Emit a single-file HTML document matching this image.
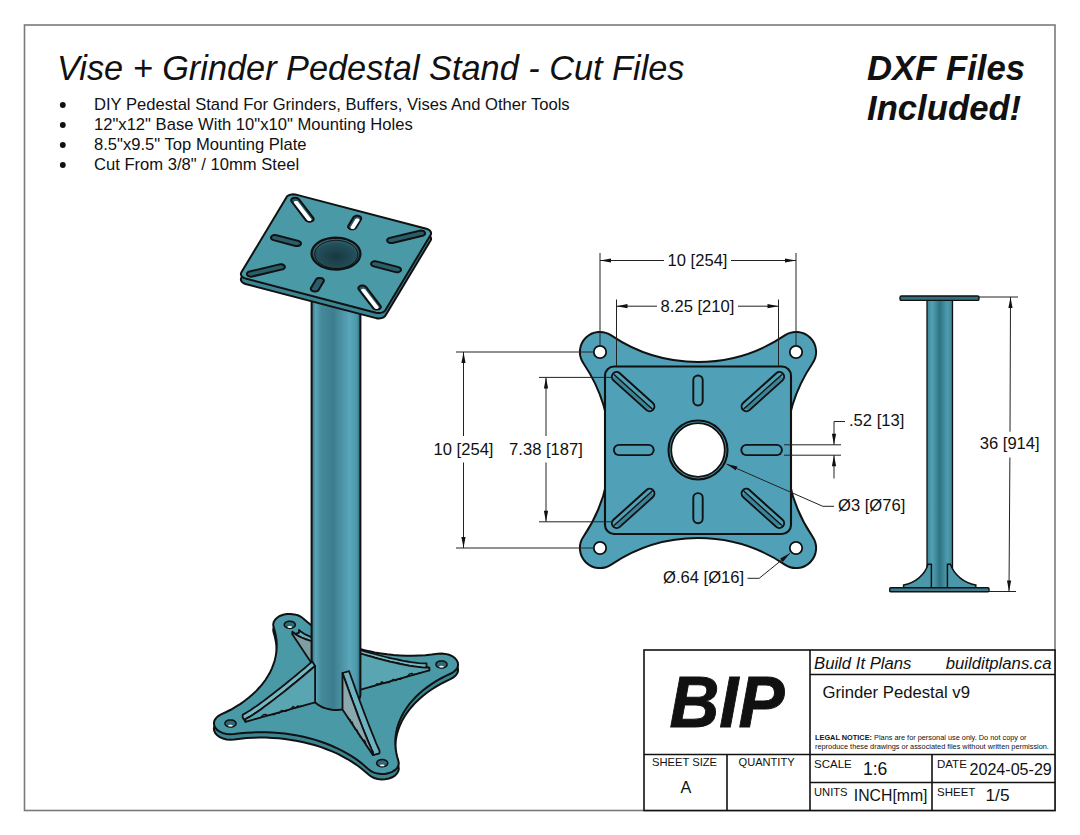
<!DOCTYPE html>
<html><head><meta charset="utf-8">
<style>
html,body{margin:0;padding:0;background:#fff;width:1080px;height:835px;overflow:hidden}
svg{position:absolute;left:0;top:0;display:block}
text{font-family:"Liberation Sans",sans-serif;fill:#111}
</style></head>
<body>
<svg width="1080" height="835" viewBox="0 0 1080 835">
<defs>
<linearGradient id="pipeS" x1="0" x2="1" y1="0" y2="0">
<stop offset="0" stop-color="#3b8595"/><stop offset="0.2" stop-color="#52a2b5"/><stop offset="0.5" stop-color="#2f7384"/><stop offset="0.8" stop-color="#4d9db1"/><stop offset="1" stop-color="#3a8292"/>
</linearGradient>
<linearGradient id="pipe3" x1="0" x2="1" y1="0" y2="0">
<stop offset="0" stop-color="#2f6f7f"/><stop offset="0.08" stop-color="#5aa3b6"/><stop offset="0.2" stop-color="#44899a"/><stop offset="0.45" stop-color="#3d7e8e"/><stop offset="0.78" stop-color="#5aa6bb"/><stop offset="0.92" stop-color="#4d98ab"/><stop offset="1" stop-color="#2c6a79"/>
</linearGradient>
<radialGradient id="holeG" cx="0.5" cy="0.6" r="0.6">
<stop offset="0" stop-color="#173840"/><stop offset="0.7" stop-color="#24505b"/><stop offset="1" stop-color="#3b7482"/>
</radialGradient>
</defs>
<!-- page border -->
<rect x="24.5" y="25" width="1030.5" height="785.5" fill="none" stroke="#7a7a7a" stroke-width="1.6"/>

<!-- header texts -->
<text x="57" y="80" font-size="34.3" font-style="italic">Vise + Grinder Pedestal Stand - Cut Files</text>
<g font-size="16.6">
<circle cx="62.8" cy="105" r="2.9" fill="#111"/><text x="94" y="110">DIY Pedestal Stand For Grinders, Buffers, Vises And Other Tools</text>
<circle cx="62.8" cy="125" r="2.9" fill="#111"/><text x="94" y="130">12"x12" Base With 10"x10" Mounting Holes</text>
<circle cx="62.8" cy="145" r="2.9" fill="#111"/><text x="94" y="150">8.5"x9.5" Top Mounting Plate</text>
<circle cx="62.8" cy="165" r="2.9" fill="#111"/><text x="94" y="170">Cut From 3/8" / 10mm Steel</text>
</g>
<g font-size="34.7" font-weight="bold" font-style="italic">
<text x="867" y="80">DXF Files</text>
<text x="867" y="120">Included!</text>
</g>

<path d="M437.8 659.2 L431.6 660 L425.3 660.6 L418.9 660.9 L412.6 661.1 L406.2 661 L399.8 660.8 L393.5 660.3 L387.2 659.7 L380.9 658.8 L374.7 657.7 L368.6 656.5 L362.6 655 L356.7 653.4 L351 651.5 L345.4 649.5 L339.9 647.3 L334.7 644.9 L329.6 642.4 L324.7 639.7 L320 636.9 L315.5 633.9 L311.3 630.7 L307.3 627.5 L303.5 624.1 L301 622.2 L297.9 620.7 L294.3 619.7 L290.6 619.3 L286.8 619.5 L283.1 620.2 L279.8 621.4 L277.1 623.1 L275 625.2 L273.7 627.5 L273.2 630 L273.6 632.4 L274.8 636.5 L275.7 640.7 L276.4 644.8 L276.7 649 L276.7 653.1 L276.4 657.3 L275.7 661.4 L274.8 665.5 L273.5 669.6 L271.9 673.6 L270.1 677.6 L267.9 681.5 L265.4 685.3 L262.7 689.1 L259.6 692.7 L256.3 696.3 L252.7 699.7 L248.9 703 L244.8 706.2 L240.5 709.2 L235.9 712.1 L231.2 714.8 L226.2 717.4 L221.1 719.8 L218.2 721.5 L216 723.5 L214.5 725.8 L213.9 728.2 L214.2 730.7 L215.3 733.1 L217.2 735.3 L219.8 737.1 L223 738.5 L226.6 739.4 L230.4 739.7 L234.2 739.5 L240.4 738.7 L246.7 738.1 L253.1 737.8 L259.4 737.6 L265.8 737.6 L272.2 737.9 L278.5 738.3 L284.8 739 L291.1 739.9 L297.3 740.9 L303.4 742.2 L309.4 743.7 L315.3 745.3 L321 747.1 L326.6 749.2 L332.1 751.4 L337.3 753.7 L342.4 756.3 L347.3 759 L352 761.8 L356.5 764.8 L360.7 768 L364.7 771.2 L368.5 774.6 L371 776.5 L374.1 778 L377.7 778.9 L381.4 779.4 L385.2 779.2 L388.9 778.5 L392.2 777.3 L394.9 775.6 L397 773.5 L398.3 771.2 L398.8 768.7 L398.4 766.2 L397.2 762.2 L396.3 758 L395.6 753.9 L395.3 749.7 L395.3 745.6 L395.6 741.4 L396.3 737.3 L397.2 733.1 L398.5 729.1 L400.1 725 L401.9 721.1 L404.1 717.2 L406.6 713.3 L409.3 709.6 L412.4 706 L415.7 702.4 L419.3 699 L423.1 695.7 L427.2 692.5 L431.5 689.5 L436.1 686.6 L440.8 683.9 L445.8 681.3 L450.9 678.9 L453.8 677.2 L456 675.2 L457.5 672.9 L458.1 670.5 L457.8 668 L456.7 665.6 L454.8 663.4 L452.2 661.6 L449 660.2 L445.4 659.3 L441.6 659 Z" fill="#3c8592" stroke="#111" stroke-width="2"/>
<path d="M437.8 653.8 L431.6 654.6 L425.3 655.2 L418.9 655.5 L412.6 655.7 L406.2 655.7 L399.8 655.4 L393.5 655 L387.2 654.3 L380.9 653.4 L374.7 652.4 L368.6 651.1 L362.6 649.6 L356.7 648 L351 646.2 L345.4 644.1 L339.9 641.9 L334.7 639.6 L329.6 637 L324.7 634.3 L320 631.5 L315.5 628.5 L311.3 625.3 L307.3 622.1 L303.5 618.7 L301 616.8 L297.9 615.3 L294.3 614.4 L290.6 613.9 L286.8 614.1 L283.1 614.8 L279.8 616 L277.1 617.7 L275 619.8 L273.7 622.1 L273.2 624.6 L273.6 627.1 L274.8 631.2 L275.7 635.3 L276.4 639.4 L276.7 643.6 L276.7 647.8 L276.4 651.9 L275.7 656.1 L274.8 660.2 L273.5 664.2 L271.9 668.3 L270.1 672.2 L267.9 676.1 L265.4 680 L262.7 683.7 L259.6 687.3 L256.3 690.9 L252.7 694.3 L248.9 697.6 L244.8 700.8 L240.5 703.8 L235.9 706.7 L231.2 709.5 L226.2 712 L221.1 714.4 L218.2 716.1 L216 718.1 L214.5 720.4 L213.9 722.8 L214.2 725.3 L215.3 727.7 L217.2 729.9 L219.8 731.7 L223 733.1 L226.6 734 L230.4 734.3 L234.2 734.1 L240.4 733.3 L246.7 732.7 L253.1 732.4 L259.4 732.2 L265.8 732.3 L272.2 732.5 L278.5 733 L284.8 733.6 L291.1 734.5 L297.3 735.6 L303.4 736.8 L309.4 738.3 L315.3 739.9 L321 741.8 L326.6 743.8 L332.1 746 L337.3 748.4 L342.4 750.9 L347.3 753.6 L352 756.4 L356.5 759.4 L360.7 762.6 L364.7 765.9 L368.5 769.2 L371 771.1 L374.1 772.6 L377.7 773.6 L381.4 774 L385.2 773.9 L388.9 773.1 L392.2 771.9 L394.9 770.2 L397 768.2 L398.3 765.8 L398.8 763.4 L398.4 760.9 L397.2 756.8 L396.3 752.7 L395.6 748.5 L395.3 744.3 L395.3 740.2 L395.6 736 L396.3 731.9 L397.2 727.8 L398.5 723.7 L400.1 719.7 L401.9 715.7 L404.1 711.8 L406.6 708 L409.3 704.2 L412.4 700.6 L415.7 697 L419.3 693.6 L423.1 690.3 L427.2 687.1 L431.5 684.1 L436.1 681.2 L440.8 678.5 L445.8 675.9 L450.9 673.5 L453.8 671.8 L456 669.8 L457.5 667.5 L458.1 665.1 L457.8 662.6 L456.7 660.2 L454.8 658 L452.2 656.2 L449 654.8 L445.4 653.9 L441.6 653.6 Z" fill="#4a99a6" stroke="#111" stroke-width="2"/>
<path d="M235.7 724.8 L236 724 L236 723.2 L235.8 722.4 L235.3 721.7 L234.6 721 L233.6 720.5 L232.5 720.1 L231.3 719.9 L230.1 719.9 L228.9 720 L227.7 720.3 L226.7 720.8 L225.9 721.4 L225.3 722.1 L225 722.9 L225 723.7 L225.2 724.5 L225.7 725.2 L226.4 725.9 L227.4 726.4 L228.5 726.8 L229.7 727 L230.9 727.1 L232.1 726.9 L233.3 726.6 L234.3 726.1 L235.1 725.5 Z" fill="#2f6a78" stroke="#111" stroke-width="1.5"/>
<ellipse cx="230.5" cy="725.7" rx="2.3" ry="0.9" fill="#f4f8f9"/>
<path d="M295 626.1 L295.3 625.3 L295.3 624.5 L295.1 623.7 L294.6 623 L293.9 622.3 L292.9 621.8 L291.8 621.4 L290.6 621.2 L289.4 621.2 L288.2 621.3 L287 621.6 L286 622.1 L285.2 622.7 L284.6 623.4 L284.3 624.2 L284.3 625 L284.5 625.8 L285 626.5 L285.7 627.2 L286.7 627.7 L287.8 628.1 L289 628.3 L290.2 628.4 L291.4 628.2 L292.6 627.9 L293.6 627.4 L294.4 626.8 Z" fill="#2f6a78" stroke="#111" stroke-width="1.5"/>
<ellipse cx="289.8" cy="627" rx="2.3" ry="0.9" fill="#f4f8f9"/>
<path d="M387.4 764.5 L387.7 763.7 L387.7 762.9 L387.5 762.1 L387 761.4 L386.3 760.7 L385.3 760.2 L384.2 759.8 L383 759.6 L381.8 759.6 L380.6 759.7 L379.4 760 L378.4 760.5 L377.6 761.1 L377 761.8 L376.7 762.6 L376.7 763.4 L376.9 764.2 L377.4 764.9 L378.1 765.6 L379.1 766.1 L380.2 766.5 L381.4 766.7 L382.6 766.8 L383.8 766.6 L385 766.3 L386 765.8 L386.8 765.2 Z" fill="#2f6a78" stroke="#111" stroke-width="1.5"/>
<ellipse cx="382.2" cy="765.4" rx="2.3" ry="0.9" fill="#f4f8f9"/>
<path d="M446.7 665.8 L447 665 L447 664.2 L446.8 663.4 L446.3 662.7 L445.6 662 L444.6 661.5 L443.5 661.1 L442.3 660.9 L441.1 660.9 L439.9 661 L438.7 661.3 L437.7 661.8 L436.9 662.4 L436.3 663.1 L436 663.9 L436 664.7 L436.2 665.5 L436.7 666.2 L437.4 666.9 L438.4 667.4 L439.5 667.8 L440.7 668 L441.9 668.1 L443.1 667.9 L444.3 667.6 L445.3 667.1 L446.1 666.5 Z" fill="#2f6a78" stroke="#111" stroke-width="1.5"/>
<ellipse cx="441.5" cy="666.7" rx="2.3" ry="0.9" fill="#f4f8f9"/>
<path d="M322.9 643.7 L321.2 643.4 L319.5 643.1 L317.8 642.7 L316.2 642.3 L314.5 641.9 L312.8 641.5 L311.1 641 L309.4 640.5 L307.7 639.9 L306 639.3 L304.3 638.7 L302.6 638 L300.9 637.2 L299.2 636.4 L297.5 635.5 L295.9 634.5 L294.2 633.3 L292.5 631.8 L292.5 634.6 L299 632.8 L299 630 L300.7 631.5 L302.4 632.6 L304.1 633.7 L305.8 634.6 L307.5 635.4 L309.2 636.2 L310.9 636.9 L312.6 637.5 L314.3 638.1 L315.9 638.7 L317.6 639.2 L319.3 639.6 L321 640.1 L322.7 640.5 L324.4 640.9 L326.1 641.2 L327.8 641.5 L329.5 641.8 Z" fill="#6aaabb" stroke="#111" stroke-width="1.8" stroke-linejoin="round"/>
<path d="M322.9 680.2 L322.9 643.7 L321.2 643.4 L319.5 643.1 L317.8 642.7 L316.2 642.3 L314.5 641.9 L312.8 641.5 L311.1 641 L309.4 640.5 L307.7 639.9 L306 639.3 L304.3 638.7 L302.6 638 L300.9 637.2 L299.2 636.4 L297.5 635.5 L295.9 634.5 L294.2 633.3 L292.5 631.8 L292.5 634.6 Z" fill="#7f9ea4" stroke="#111" stroke-width="1.8" stroke-linejoin="round"/>
<path d="M359.8 653.3 L363.7 654.5 L367.5 655.6 L371.4 656.7 L375.3 657.8 L379.1 658.8 L383 659.9 L386.9 660.8 L390.7 661.8 L394.6 662.7 L398.4 663.5 L402.3 664.3 L406.2 665.1 L410 665.8 L413.9 666.4 L417.8 666.9 L421.6 667.4 L425.5 667.7 L429.3 667.6 L429.3 670.4 L426.5 666.1 L426.5 663.3 L422.6 663.4 L418.7 663.1 L414.9 662.6 L411 662.1 L407.2 661.5 L403.3 660.8 L399.4 660 L395.6 659.2 L391.7 658.4 L387.8 657.5 L384 656.5 L380.1 655.5 L376.3 654.5 L372.4 653.5 L368.5 652.4 L364.7 651.3 L360.8 650.2 L356.9 649 Z" fill="#74b8c5" stroke="#111" stroke-width="1.8" stroke-linejoin="round"/>
<path d="M359.8 689.9 L359.8 653.3 L363.7 654.5 L367.5 655.6 L371.4 656.7 L375.3 657.8 L379.1 658.8 L383 659.9 L386.9 660.8 L390.7 661.8 L394.6 662.7 L398.4 663.5 L402.3 664.3 L406.2 665.1 L410 665.8 L413.9 666.4 L417.8 666.9 L421.6 667.4 L425.5 667.7 L429.3 667.6 L429.3 670.4 Z" fill="#5aa5b2" stroke="#111" stroke-width="1.8" stroke-linejoin="round"/>
<path d="M370.3 686.9 L372.6 686.3 L374.9 685.7 L377.2 683.7 L379.5 684.4 L381.8 681.7 L384.1 683.1 L386.4 682.4 L388.7 682.6 L391 681.1 L393.3 679.2 L395.6 680.6 L397.9 679.2 L400.2 679.4 L402.5 677.9 L404.8 677.3 L407.2 676.6 L409.5 674 L411.8 673.3 L414.1 674.7 L416.4 674 L418.7 673.4 L421 672.8" fill="none" stroke="#111" stroke-width="1.3" stroke-linejoin="round"/>
<path d="M360.4 257.5 L360.4 694.1 L360.4 695.4 L360.1 696.6 L359.8 697.8 L359.2 699 L358.6 700.2 L357.8 701.3 L356.8 702.4 L355.8 703.5 L354.6 704.4 L353.3 705.4 L351.9 706.2 L350.4 707 L348.8 707.7 L347.1 708.3 L345.3 708.8 L343.5 709.2 L341.7 709.5 L339.8 709.7 L337.9 709.9 L336 709.9 L334.1 709.9 L332.2 709.7 L330.3 709.4 L328.5 709.1 L326.7 708.6 L324.9 708.1 L323.2 707.5 L321.6 706.8 L320.1 706 L318.7 705.1 L317.4 704.2 L316.2 703.2 L315.2 702.2 L314.2 701.1 L313.4 699.9 L312.8 698.7 L312.2 697.5 L311.9 696.3 L311.6 695.1 L311.6 693.8 L311.6 257.2 Z" fill="url(#pipe3)" stroke="#111" stroke-width="2"/>
<path d="M315.1 665.9 L311.2 669.2 L307.3 672.5 L303.5 675.7 L299.6 679 L295.7 682.2 L291.9 685.3 L288 688.5 L284.2 691.6 L280.3 694.6 L276.4 697.6 L272.6 700.6 L268.7 703.5 L264.8 706.4 L261 709.2 L257.1 711.9 L253.3 714.5 L249.4 716.9 L245.5 719 L245.5 721.8 L242.7 717.5 L242.7 714.7 L246.5 712.6 L250.4 710.2 L254.2 707.6 L258.1 704.9 L262 702.1 L265.8 699.2 L269.7 696.3 L273.6 693.3 L277.4 690.3 L281.3 687.3 L285.1 684.2 L289 681 L292.9 677.9 L296.7 674.7 L300.6 671.4 L304.5 668.2 L308.3 664.9 L312.2 661.5 Z" fill="#74b8c5" stroke="#111" stroke-width="1.8" stroke-linejoin="round"/>
<path d="M315.1 702.4 L315.1 665.9 L311.2 669.2 L307.3 672.5 L303.5 675.7 L299.6 679 L295.7 682.2 L291.9 685.3 L288 688.5 L284.2 691.6 L280.3 694.6 L276.4 697.6 L272.6 700.6 L268.7 703.5 L264.8 706.4 L261 709.2 L257.1 711.9 L253.3 714.5 L249.4 716.9 L245.5 719 L245.5 721.8 Z" fill="#5aa5b2" stroke="#111" stroke-width="1.8" stroke-linejoin="round"/>
<path d="M304.6 705.3 L302.3 705.9 L300 706.6 L297.7 705.9 L295.4 707.9 L293.1 706.5 L290.8 709.2 L288.5 709.8 L286.2 711.3 L283.9 711.1 L281.6 710.4 L279.2 713.2 L276.9 713 L274.6 714.5 L272.3 714.3 L270 715 L267.7 715.6 L265.4 714.3 L263.1 714.9 L260.8 717.5 L258.5 718.2 L256.2 718.8 L253.9 719.5" fill="none" stroke="#111" stroke-width="1.3" stroke-linejoin="round"/>
<path d="M342.5 673 L344.2 677.8 L345.9 682.6 L347.6 687.3 L349.3 692 L351 696.6 L352.7 701.2 L354.4 705.8 L356.1 710.4 L357.7 714.9 L359.4 719.4 L361.1 723.8 L362.8 728.2 L364.5 732.5 L366.2 736.7 L367.9 740.9 L369.6 744.9 L371.3 748.8 L373 752.4 L373 755.2 L379.5 753.3 L379.5 750.6 L377.8 747 L376.1 743.1 L374.5 739 L372.8 734.9 L371.1 730.6 L369.4 726.3 L367.7 722 L366 717.5 L364.3 713.1 L362.6 708.5 L360.9 704 L359.2 699.4 L357.5 694.8 L355.8 690.1 L354.2 685.4 L352.5 680.7 L350.8 676 L349.1 671.2 Z" fill="#6db2c0" stroke="#111" stroke-width="1.8" stroke-linejoin="round"/>
<path d="M342.5 709.6 L342.5 673 L344.2 677.8 L345.9 682.6 L347.6 687.3 L349.3 692 L351 696.6 L352.7 701.2 L354.4 705.8 L356.1 710.4 L357.7 714.9 L359.4 719.4 L361.1 723.8 L362.8 728.2 L364.5 732.5 L366.2 736.7 L367.9 740.9 L369.6 744.9 L371.3 748.8 L373 752.4 L373 755.2 Z" fill="#8aa9ae" stroke="#111" stroke-width="1.8" stroke-linejoin="round"/>
<path d="M347.1 716.4 L348.1 717.9 L349.1 719.4 L350.1 719.7 L351.1 722.5 L352.1 722 L353.2 725.5 L354.2 727 L355.2 729.3 L356.2 730 L357.2 730.2 L358.2 733.8 L359.2 734.6 L360.2 736.9 L361.2 737.6 L362.2 739.1 L363.2 740.6 L364.3 740.1 L365.3 741.6 L366.3 745.1 L367.3 746.7 L368.3 748.2 L369.3 749.7" fill="none" stroke="#111" stroke-width="1.3" stroke-linejoin="round"/>
<path d="M430.6 240.4 L431 239.5 L431.1 238.6 L430.9 237.7 L430.5 236.8 L429.8 235.9 L428.8 235.2 L427.7 234.6 L426.4 234.2 L296 200.1 L294.6 199.8 L293.2 199.7 L291.7 199.8 L290.4 200.1 L289.1 200.5 L288 201.2 L287.1 201.9 L286.5 202.7 L241.4 277.7 L241 278.6 L240.9 279.6 L241.1 280.5 L241.5 281.4 L242.2 282.2 L243.2 282.9 L244.3 283.5 L245.6 284 L376 318.1 L377.4 318.4 L378.8 318.4 L380.3 318.3 L381.6 318.1 L382.9 317.6 L384 317 L384.9 316.3 L385.5 315.4 Z" fill="#3c8592" stroke="#111" stroke-width="2" stroke-linejoin="round"/>
<path d="M430.6 235 L431 234.1 L431.1 233.2 L430.9 232.2 L430.5 231.3 L429.8 230.5 L428.8 229.8 L427.7 229.2 L426.4 228.8 L296 194.6 L294.6 194.4 L293.2 194.3 L291.7 194.4 L290.4 194.7 L289.1 195.1 L288 195.7 L287.1 196.4 L286.5 197.3 L241.4 272.3 L241 273.2 L240.9 274.1 L241.1 275.1 L241.5 276 L242.2 276.8 L243.2 277.5 L244.3 278.1 L245.6 278.5 L376 312.7 L377.4 312.9 L378.8 313 L380.3 312.9 L381.6 312.6 L382.9 312.2 L384 311.6 L384.9 310.8 L385.5 310 Z" fill="#4a99a6" stroke="#111" stroke-width="2" stroke-linejoin="round"/>
<path d="M358.8 259.6 L359.7 257.6 L360.3 255.6 L360.4 253.5 L360.2 251.4 L359.5 249.4 L358.4 247.4 L356.9 245.5 L355.1 243.8 L352.9 242.2 L350.5 240.9 L347.8 239.7 L344.9 238.8 L341.8 238.2 L338.7 237.8 L335.5 237.7 L332.3 237.8 L329.2 238.3 L326.2 239 L323.4 239.9 L320.7 241.1 L318.4 242.5 L316.3 244.1 L314.6 245.8 L313.2 247.7 L312.3 249.7 L311.7 251.7 L311.6 253.8 L311.8 255.9 L312.5 257.9 L313.6 259.9 L315.1 261.8 L316.9 263.5 L319.1 265 L321.5 266.4 L324.2 267.5 L327.1 268.4 L330.2 269.1 L333.3 269.5 L336.5 269.6 L339.7 269.4 L342.8 269 L345.8 268.3 L348.6 267.4 L351.3 266.2 L353.6 264.8 L355.7 263.2 L357.4 261.5 Z" fill="url(#holeG)" stroke="#111" stroke-width="2.2"/>
<path d="M356.3 259.6 L357.2 257.9 L357.7 256.1 L357.8 254.2 L357.6 252.4 L356.9 250.6 L356 248.9 L354.7 247.2 L353.1 245.7 L351.2 244.4 L349 243.2 L346.7 242.1 L344.1 241.4 L341.4 240.8 L338.7 240.4 L335.9 240.3 L333.1 240.5 L330.3 240.9 L327.7 241.5 L325.2 242.3 L322.9 243.3 L320.8 244.6 L319 245.9 L317.5 247.5 L316.3 249.1 L315.4 250.9 L314.9 252.7 L314.8 254.5 L315 256.4 L315.6 258.2 L316.6 259.9 L317.9 261.5 L319.5 263 L321.4 264.4 L323.6 265.6 L325.9 266.6 L328.5 267.4 L331.1 268 L333.9 268.3 L336.7 268.4 L339.5 268.3 L342.3 267.9 L344.9 267.3 L347.4 266.5 L349.7 265.4 L351.8 264.2 L353.6 262.8 L355.1 261.3 Z" fill="none" stroke="#111" stroke-width="1" opacity="0.9"/>
<path d="M395.5 272.1 L396.7 272.3 L398 272.2 L399.2 271.9 L400.1 271.3 L400.8 270.6 L401 269.8 L400.9 269 L400.4 268.2 L399.6 267.6 L398.5 267.1 L376.6 261.4 L375.4 261.2 L374.1 261.3 L372.9 261.6 L372 262.2 L371.3 262.9 L371.1 263.7 L371.2 264.5 L371.7 265.3 L372.6 265.9 L373.7 266.4 Z" fill="#285d69" stroke="#111" stroke-width="2"/>
<path d="M295.4 245.9 L296.6 246.1 L297.9 246 L299.1 245.7 L300 245.1 L300.7 244.4 L300.9 243.6 L300.8 242.7 L300.3 242 L299.4 241.4 L298.3 240.9 L276.5 235.2 L275.3 235 L274 235.1 L272.8 235.4 L271.9 236 L271.2 236.7 L271 237.5 L271.1 238.3 L271.6 239.1 L272.4 239.7 L273.5 240.1 Z" fill="#285d69" stroke="#111" stroke-width="2"/>
<path d="M361 219.4 L361.2 218.6 L361.1 217.8 L360.6 217 L359.8 216.4 L358.7 215.9 L357.4 215.8 L356.1 215.8 L355 216.2 L354 216.7 L353.4 217.4 L348.4 225.7 L348.1 226.5 L348.2 227.3 L348.8 228.1 L349.6 228.7 L350.7 229.2 L352 229.3 L353.2 229.3 L354.4 228.9 L355.3 228.4 L356 227.7 Z" fill="#285d69" stroke="#111" stroke-width="2"/>
<path d="M359.4 220.5 L359.5 220.1 L359.5 219.6 L359.2 219.2 L358.7 218.8 L358.1 218.6 L357.4 218.5 L356.7 218.5 L356.1 218.7 L355.6 219 L355.2 219.4 L350.6 227 L350.5 227.5 L350.5 227.9 L350.8 228.4 L351.3 228.7 L351.9 228.9 L352.6 229 L353.3 229 L353.9 228.8 L354.4 228.5 L354.8 228.1 Z" fill="#fff" stroke="none"/>
<path d="M323.6 281.6 L323.9 280.8 L323.8 279.9 L323.2 279.2 L322.4 278.5 L321.3 278.1 L320 277.9 L318.8 278 L317.6 278.3 L316.7 278.9 L316 279.6 L311 287.9 L310.8 288.7 L310.9 289.5 L311.4 290.3 L312.2 290.9 L313.3 291.3 L314.6 291.5 L315.9 291.5 L317 291.1 L318 290.6 L318.6 289.9 Z" fill="#285d69" stroke="#111" stroke-width="2"/>
<path d="M298.9 199.2 L298.1 198.5 L297.1 198 L295.9 197.7 L294.6 197.7 L293.4 197.9 L292.4 198.4 L291.6 199.1 L291.2 199.9 L291.2 200.7 L291.6 201.5 L305.9 220.2 L306.7 220.9 L307.7 221.4 L308.9 221.7 L310.2 221.7 L311.4 221.4 L312.4 221 L313.2 220.3 L313.6 219.5 L313.6 218.7 L313.2 217.9 Z" fill="#285d69" stroke="#111" stroke-width="2"/>
<path d="M298.1 201.7 L297.7 201.3 L297.2 201 L296.5 200.9 L295.8 200.9 L295.1 201 L294.6 201.3 L294.1 201.6 L293.9 202.1 L293.9 202.5 L294.1 203 L307.3 220.2 L307.7 220.6 L308.3 220.8 L308.9 221 L309.6 221 L310.3 220.9 L310.9 220.6 L311.3 220.2 L311.5 219.8 L311.5 219.3 L311.3 218.9 Z" fill="#fff" stroke="none"/>
<path d="M373.1 308.1 L373.9 308.8 L374.9 309.3 L376.1 309.6 L377.4 309.6 L378.6 309.3 L379.6 308.9 L380.4 308.2 L380.8 307.4 L380.8 306.6 L380.4 305.8 L366.1 287 L365.3 286.4 L364.3 285.9 L363.1 285.6 L361.8 285.6 L360.6 285.8 L359.6 286.3 L358.8 287 L358.4 287.8 L358.4 288.6 L358.8 289.4 Z" fill="#285d69" stroke="#111" stroke-width="2"/>
<path d="M374.5 308.1 L374.9 308.4 L375.5 308.7 L376.1 308.9 L376.8 308.9 L377.5 308.7 L378.1 308.5 L378.5 308.1 L378.7 307.7 L378.7 307.2 L378.5 306.8 L365.3 289.6 L364.9 289.2 L364.4 288.9 L363.7 288.8 L363 288.7 L362.3 288.9 L361.8 289.1 L361.3 289.5 L361.1 289.9 L361.1 290.4 L361.3 290.8 Z" fill="#fff" stroke="none"/>
<path d="M422.5 235.8 L423.6 235.3 L424.4 234.7 L425 234 L425.1 233.2 L424.8 232.3 L424.2 231.6 L423.3 231 L422.1 230.7 L420.8 230.6 L419.6 230.8 L389.7 237.9 L388.6 238.3 L387.8 238.9 L387.2 239.7 L387.1 240.5 L387.4 241.3 L388 242.1 L388.9 242.6 L390.1 243 L391.3 243.1 L392.6 242.9 Z" fill="#285d69" stroke="#111" stroke-width="2"/>
<path d="M249.5 271.5 L248.4 271.9 L247.6 272.5 L247 273.3 L246.9 274.1 L247.2 274.9 L247.8 275.7 L248.7 276.2 L249.9 276.6 L251.2 276.7 L252.4 276.5 L282.3 269.4 L283.4 269 L284.2 268.3 L284.8 267.6 L284.9 266.8 L284.6 266 L284 265.2 L283.1 264.7 L281.9 264.3 L280.7 264.2 L279.4 264.4 Z" fill="#285d69" stroke="#111" stroke-width="2"/>
<path d="M611.2 335.4 A155 155 0 0 0 784.8 335.4 A20 20 0 0 1 812.6 363.2 A155 155 0 0 0 812.6 536.8 A20 20 0 0 1 784.8 564.6 A155 155 0 0 0 611.2 564.6 A20 20 0 0 1 583.4 536.8 A155 155 0 0 0 583.4 363.2 A20 20 0 0 1 611.2 335.4 Z" fill="#50a1b7" stroke="#111" stroke-width="2"/>
<circle cx="600" cy="352" r="6.2" fill="#fff" stroke="#111" stroke-width="1.8"/>
<circle cx="600" cy="548" r="6.2" fill="#fff" stroke="#111" stroke-width="1.8"/>
<circle cx="796" cy="352" r="6.2" fill="#fff" stroke="#111" stroke-width="1.8"/>
<circle cx="796" cy="548" r="6.2" fill="#fff" stroke="#111" stroke-width="1.8"/>
<rect x="605" y="366.5" width="186" height="167.5" rx="9" fill="#50a1b7" stroke="#111" stroke-width="2.1"/>
<circle cx="698" cy="450" r="29.5" fill="#50a1b7" stroke="#111" stroke-width="2.1"/>
<circle cx="698" cy="450" r="26.8" fill="#fff" stroke="#111" stroke-width="1.8"/>
<line x1="698" y1="380.2" x2="698" y2="400.8" stroke="#111" stroke-width="11.3" stroke-linecap="round"/><line x1="698" y1="380.2" x2="698" y2="400.8" stroke="#50a1b7" stroke-width="7.5" stroke-linecap="round"/>
<line x1="698" y1="497.8" x2="698" y2="518.6" stroke="#111" stroke-width="11.3" stroke-linecap="round"/><line x1="698" y1="497.8" x2="698" y2="518.6" stroke="#50a1b7" stroke-width="7.5" stroke-linecap="round"/>
<line x1="619" y1="450" x2="648.6" y2="450" stroke="#111" stroke-width="12.1" stroke-linecap="round"/><line x1="619" y1="450" x2="648.6" y2="450" stroke="#50a1b7" stroke-width="8.3" stroke-linecap="round"/>
<line x1="746.4" y1="450" x2="776.8" y2="450" stroke="#111" stroke-width="12.1" stroke-linecap="round"/><line x1="746.4" y1="450" x2="776.8" y2="450" stroke="#50a1b7" stroke-width="8.3" stroke-linecap="round"/>
<line x1="649.7" y1="406.5" x2="616.6" y2="376.7" stroke="#111" stroke-width="11.4" stroke-linecap="round"/><line x1="649.7" y1="406.5" x2="616.6" y2="376.7" stroke="#50a1b7" stroke-width="7.4" stroke-linecap="round"/>
<line x1="648.3" y1="408.1" x2="615.2" y2="378.3" stroke="#3a8499" stroke-width="3.4" stroke-linecap="round"/>
<line x1="652.3" y1="408.9" x2="614" y2="374.4" stroke="#111" stroke-width="1.4"/>
<line x1="649.7" y1="493.5" x2="616.6" y2="523.3" stroke="#111" stroke-width="11.4" stroke-linecap="round"/><line x1="649.7" y1="493.5" x2="616.6" y2="523.3" stroke="#50a1b7" stroke-width="7.4" stroke-linecap="round"/>
<line x1="651.1" y1="495" x2="618" y2="524.8" stroke="#3a8499" stroke-width="3.4" stroke-linecap="round"/>
<line x1="652.3" y1="491.1" x2="614" y2="525.6" stroke="#111" stroke-width="1.4"/>
<line x1="746.3" y1="406.5" x2="779.4" y2="376.7" stroke="#111" stroke-width="11.4" stroke-linecap="round"/><line x1="746.3" y1="406.5" x2="779.4" y2="376.7" stroke="#50a1b7" stroke-width="7.4" stroke-linecap="round"/>
<line x1="747.7" y1="408.1" x2="780.8" y2="378.3" stroke="#3a8499" stroke-width="3.4" stroke-linecap="round"/>
<line x1="743.7" y1="408.9" x2="782" y2="374.4" stroke="#111" stroke-width="1.4"/>
<line x1="746.3" y1="493.5" x2="779.4" y2="523.3" stroke="#111" stroke-width="11.4" stroke-linecap="round"/><line x1="746.3" y1="493.5" x2="779.4" y2="523.3" stroke="#50a1b7" stroke-width="7.4" stroke-linecap="round"/>
<line x1="744.9" y1="495" x2="778" y2="524.8" stroke="#3a8499" stroke-width="3.4" stroke-linecap="round"/>
<line x1="743.7" y1="491.1" x2="782" y2="525.6" stroke="#111" stroke-width="1.4"/>
<path d="M600 253 V345 M796 253 V345 M600 260.5 H664 M731 260.5 H796" stroke="#222" stroke-width="1" fill="none"/>
<path d="M600 260.5 L611 258.4 L611 262.6 Z" fill="#111"/>
<path d="M796 260.5 L785 262.6 L785 258.4 Z" fill="#111"/>
<text x="697.5" y="266" font-size="16.6" text-anchor="middle">10 [254]</text>
<path d="M616.5 299.5 V366 M778.5 299.5 V366 M616.5 306.2 H657 M738 306.2 H778.5" stroke="#222" stroke-width="1" fill="none"/>
<path d="M616.5 306.2 L627.5 304.1 L627.5 308.3 Z" fill="#111"/>
<path d="M778.5 306.2 L767.5 308.3 L767.5 304.1 Z" fill="#111"/>
<text x="697.5" y="311.8" font-size="16.6" text-anchor="middle">8.25 [210]</text>
<path d="M456 352 H594 M456 548 H594 M463.5 352 V436 M463.5 462.5 V548" stroke="#222" stroke-width="1" fill="none"/>
<path d="M463.5 352 L465.6 363 L461.4 363 Z" fill="#111"/>
<path d="M463.5 548 L461.4 537 L465.6 537 Z" fill="#111"/>
<text x="463.5" y="455" font-size="16.6" text-anchor="middle">10 [254]</text>
<path d="M539 377.4 H612 M539 521.8 H612 M546 377.4 V436 M546 462.5 V521.8" stroke="#222" stroke-width="1" fill="none"/>
<path d="M546 377.4 L548.1 388.4 L543.9 388.4 Z" fill="#111"/>
<path d="M546 521.8 L543.9 510.8 L548.1 510.8 Z" fill="#111"/>
<text x="546" y="455" font-size="16.6" text-anchor="middle">7.38 [187]</text>
<path d="M784 444.8 H841 M784 455.2 H841 M845 421.5 H834 V444.8 M834 455.2 V478.5" stroke="#222" stroke-width="1" fill="none"/>
<path d="M834 444.8 L831.9 433.8 L836.1 433.8 Z" fill="#111"/>
<path d="M834 455.2 L836.1 466.2 L831.9 466.2 Z" fill="#111"/>
<text x="849" y="425.8" font-size="16.6">.52 [13]</text>
<path d="M726.5 464 L822.8 506.3 H834" stroke="#222" stroke-width="1" fill="none"/>
<path d="M726.5 464 L737.4 466.5 L735.7 470.3 Z" fill="#111"/>
<text x="838" y="511" font-size="16.6">Ø3 [Ø76]</text>
<path d="M747.5 578.3 H759.2 L790 553.3" stroke="#222" stroke-width="1" fill="none"/>
<path d="M790 553.3 L782.8 561.9 L780.1 558.6 Z" fill="#111"/>
<text x="663" y="583" font-size="16.6">Ø.64 [Ø16]</text>
<path d="M979 297 H1018 M989 591.5 H1016 M1010.5 297 L1010 431.7 M1009.9 457.5 L1009 591.5" stroke="#222" stroke-width="1" fill="none"/>
<path d="M1010.5 297 L1012.6 308 L1008.4 308 Z" fill="#111"/>
<path d="M1009 591.5 L1007 580.5 L1011.2 580.5 Z" fill="#111"/>
<text x="1009.7" y="449" font-size="16.6" text-anchor="middle">36 [914]</text>
<rect x="927" y="300" width="25.5" height="288" fill="url(#pipeS)" stroke="#111" stroke-width="1.3"/>
<rect x="900" y="296" width="79" height="4.4" rx="1.5" fill="#2f6f80" stroke="#111" stroke-width="1.4"/>
<path d="M928 564.3 H931.4 V587.8 H903.6 V585 C915 583 925 575 928 564.3 Z" fill="#4a97aa" stroke="#111" stroke-width="1.5"/>
<path d="M950.5 564.3 H947.4 V587.8 H975.8 V585 C964 583 954 575 950.5 564.3 Z" fill="#4a97aa" stroke="#111" stroke-width="1.5"/>
<rect x="889.7" y="587.8" width="99.3" height="3.9" rx="1" fill="#3a7d8d" stroke="#111" stroke-width="1.4"/>

<!-- title block -->
<rect x="644" y="650" width="411" height="160.5" fill="#fff"/>
<g fill="none" stroke="#111" stroke-width="1.6">
<rect x="644" y="650" width="411" height="160.5"/>
<line x1="810" y1="650" x2="810" y2="810.5"/>
<line x1="810" y1="674.5" x2="1055" y2="674.5"/>
<line x1="644" y1="754.5" x2="1055" y2="754.5"/>
<line x1="727" y1="754.5" x2="727" y2="810.5"/>
<line x1="932" y1="754.5" x2="932" y2="810.5"/>
<line x1="810" y1="782.5" x2="1055" y2="782.5"/>
</g>
<text transform="translate(669.5 727) scale(1 1.045)" x="0" y="0" font-size="69" font-weight="bold" font-style="italic" stroke="#111" stroke-width="0.9">BIP</text>
<text x="814" y="668.5" font-size="16.7" font-style="italic">Build It Plans</text>
<text x="1051.5" y="668.5" font-size="16.7" font-style="italic" text-anchor="end">builditplans.ca</text>
<text x="822.5" y="698" font-size="16.7">Grinder Pedestal v9</text>
<text x="815" y="740" font-size="7.35"><tspan font-weight="bold">LEGAL NOTICE:</tspan> Plans are for personal use only. Do not copy or</text>
<text x="815" y="749" font-size="7.35">reproduce these drawings or associated files without written permission.</text>
<text x="652" y="766" font-size="11.2">SHEET SIZE</text>
<text x="686" y="793" font-size="16.2" text-anchor="middle">A</text>
<text x="738.5" y="766" font-size="11.1">QUANTITY</text>
<text x="814" y="768.3" font-size="11.5">SCALE</text>
<text x="863" y="774.5" font-size="17.5">1:6</text>
<text x="937" y="768.3" font-size="11.5">DATE</text>
<text x="969.5" y="775" font-size="16.1">2024-05-29</text>
<text x="814" y="795.5" font-size="11.2">UNITS</text>
<text x="853.8" y="801" font-size="15.8">INCH[mm]</text>
<text x="937" y="795.5" font-size="11.5">SHEET</text>
<text x="985.5" y="801" font-size="17.3">1/5</text>

</svg>
</body></html>
